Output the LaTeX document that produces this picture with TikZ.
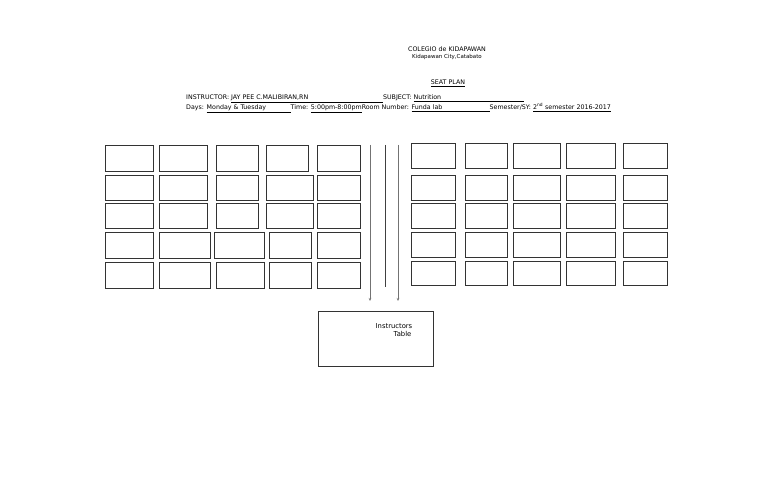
\documentclass[tikz,border=0pt]{standalone}
\usepackage{fontspec}
\setmainfont{DejaVu Sans}
\usetikzlibrary{arrows.meta}
\newcommand{\ul}[2]{\underline{\makebox[#1][l]{#2}}}
\begin{document}
\begin{tikzpicture}[x=1pt,y=-1pt,
  seat/.style={draw=black!80,line width=0.9pt},
  txt/.style={inner sep=0pt,font=\fontsize{6.3}{7}\selectfont},
  arr/.style={draw=black!55,line width=0.6pt,-{Stealth[length=3pt,width=2.5pt]}}]
\useasboundingbox[fill=white] (0,0) rectangle (768,497);
\node[txt] (t1) at (447,49) {COLEGIO de KIDAPAWAN};
\node[txt,font=\fontsize{5.5}{6}\selectfont] (t2) at (447,57) {Kidapawan City,Catabato};
\node[txt] (t3) at (448,83) {\underline{SEAT PLAN}};
\node[txt,anchor=west] (t4) at (186,99) {INSTRUCTOR: \ul{152pt}{JAY PEE C.MALIBIRAN,RN}SUBJECT: \ul{110pt}{Nutrition}};
\node[txt,anchor=west] (t5) at (186,108) {Days: \ul{84pt}{Monday \& Tuesday}Time: \underline{5:00pm-8:00pm}Room Number: \ul{78pt}{Funda lab}Semester/SY: \underline{2\textsuperscript{nd} semester 2016-2017}};
% left block
\foreach \r/\ya/\yb/\xs in {
 1/145/171/{105/153,159/207,216/258,266/308,317/360},
 2/175/200/{105/153,159/207,216/258,266/313,317/360},
 3/203/228/{105/153,159/207,216/258,266/313,317/360},
 4/232/258/{105/153,159/210,214/264,269/311,317/360},
 5/262/288/{105/153,159/210,216/264,269/311,317/360}}{
  \foreach \xa/\xb [count=\c] in \xs {
    \draw[seat] (\xa,\ya) rectangle (\xb,\yb) node[coordinate] (L\r\c) {};
  }}
% right block
\foreach \r/\ya/\yb in {1/143/168,2/175/200,3/203/228,4/232/257,5/261/285}{
  \foreach \xa/\xb [count=\c] in {411/455,465/507,513/560,566/615,623/667}{
    \draw[seat] (\xa,\ya) rectangle (\xb,\yb) node[coordinate] (R\r\c) {};
  }}
% aisle
\coordinate (a1) at (370,145); \coordinate (a1e) at (370,301);
\coordinate (a2) at (398,145); \coordinate (a2e) at (398,301);
\coordinate (m1) at (385,145); \coordinate (m1e) at (385,287);
\draw[arr] (a1) -- (a1e);
\draw[arr] (a2) -- (a2e);
\draw[draw=black!75,line width=0.8pt] (m1) -- (m1e);
% instructor table
\node[draw=black!80,line width=0.8pt,minimum width=115pt,minimum height=55pt,anchor=north west] (tab) at (318,311) {};
\node[txt,align=left,font=\fontsize{6.8}{8}\selectfont] (tt) at (394,330) {Instructors\\\hspace{18pt}Table};
\end{tikzpicture}
\end{document}
